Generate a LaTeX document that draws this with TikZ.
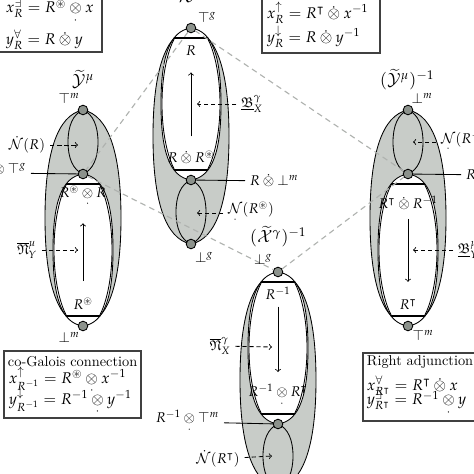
\documentclass[tikz,border=0pt]{standalone}
\usepackage{amsmath}
\usepackage{mathpazo}
\usepackage{amssymb}
\definecolor{podgray}{RGB}{200,204,200}
\definecolor{dotgray}{RGB}{140,146,140}
\definecolor{diagray}{RGB}{175,178,175}
\newcommand{\otd}{\mathbin{\dot{\otimes}}}
\newcommand{\otu}{\mathbin{\underset{\cdot}{\otimes}}}
\begin{document}
\begin{tikzpicture}[x=0.025cm,y=-0.025cm]
	\tikzstyle{point}=[circle,draw,fill=dotgray,inner sep=0pt,minimum size=2.4mm,line width=0.6pt]
	\tikzstyle{corde}=[line width=1.5pt]
	\tikzstyle{trait}=[line width=0.6pt]
	\tikzstyle{diag}=[diagray,dash pattern=on 4pt off 3pt,line width=0.8pt]
	\tikzstyle{fleche}=[->,line width=0.6pt]
	\tikzstyle{pointille}=[->,dash pattern=on 3pt off 2pt,line width=0.6pt]
	\tikzstyle{boite}=[line width=0.8pt,draw=black!75]
	\tikzstyle{titre}=[font=\large]
	\tikzstyle{formule}=[anchor=west,font=\fontsize{11}{13}\selectfont]
	\tikzstyle{entete}=[anchor=west,font=\fontsize{10.2}{12}\selectfont]
	\tikzset{pod/.pic={
		\draw[trait,fill=podgray] (0,0) .. controls (26,5) and (38,44) .. (38,108)
			.. controls (38,172) and (26,211) .. (0,216)
			.. controls (-26,211) and (-38,172) .. (-38,108)
			.. controls (-38,44) and (-26,5) .. (0,0) -- cycle; % enveloppe
		\draw[trait,fill=white] (0,0) .. controls (22,3) and (30,30) .. (30,76)
			.. controls (30,122) and (22,149) .. (0,152)
			.. controls (-22,149) and (-30,122) .. (-30,76)
			.. controls (-30,30) and (-22,3) .. (0,0) -- cycle;
		\begin{scope}
			\clip (-40,10) rectangle (40,142);
			\draw[trait] (0,76) ellipse [x radius=29, y radius=80];
		\end{scope}
		\draw[corde] (-17,10) -- (17,10);
		\draw[corde] (-17,142) -- (17,142);
		\draw[trait] (0,152) .. controls (10,156) and (15,168) .. (15,184)
			.. controls (15,200) and (10,212) .. (0,216)
			.. controls (-10,212) and (-15,200) .. (-15,184)
			.. controls (-15,168) and (-10,156) .. (0,152) -- cycle; % petite
		\node[point] (-big) at (0,0) {};
		\node[point] (-mid) at (0,152) {};
		\node[point] (-small) at (0,216) {};
	}}
	\useasboundingbox (0,0) rectangle (474,474);
	\clip (0,0) rectangle (474,474);

	\pic (C) at (191,28) {pod};
	\pic (B) at (278,272) {pod};
	\pic[yscale=-1] (L) at (83,326) {pod};
	\pic[yscale=-1] (R) at (408,326) {pod};
	\draw[diag] (C-big) -- (L-mid) -- (B-big) -- (R-mid) -- (C-big);

	% gauche
	\node[titre] (tL) at (83,79) {$\widetilde{\mathcal{Y}}^{\mu}$};
	\node (hL) at (69,98) {$\top^m$};
	\node (bL) at (69,337) {$\bot^m$};
	\node (NL) at (27,145) {$\dot{\mathcal{N}}(R)$};
	\node[anchor=east] (gL) at (31,173) {$R^{\circledast}\otu\top^g$};
	\node (aL) at (83,197) {$R^{\circledast}\otu R$};
	\node (zL) at (83,304) {$R^{\circledast}$};
	\node (YL) at (27,250) {$\overline{\mathfrak{N}}^{\mu}_{Y}$};
	\coordinate (pNL) at (78,145);
	\coordinate (pYL) at (78,250);
	\draw[trait] (gL) -- (L-mid);
	\draw[fleche,shorten <=3mm,shorten >=2.5mm] (zL) -- (aL);
	\draw[pointille] (NL) -- (pNL);
	\draw[pointille] (YL) -- (pYL);

	% milieu haut
	\node[titre] (tC) at (185,-6) {$\widetilde{\mathcal{R}}$};
	\node (hC) at (207,17) {$\top^g$};
	\node (aC) at (191,51) {$R$};
	\node (zC) at (191,157) {$R\otd R^{\circledast}$};
	\node (BC) at (252,104) {$\underline{\mathfrak{B}}^{\gamma}_{X}$};
	\node[anchor=west] (mC) at (245,181) {$R\otd\bot^m$};
	\node (NC) at (251,213) {$\underset{\cdot}{\mathcal{N}}(R^{\circledast})$};
	\node (bC) at (204,257) {$\bot^g$};
	\coordinate (pBC) at (197,104);
	\coordinate (pNC) at (197,213);
	\draw[fleche,shorten <=2.3mm,shorten >=2.9mm] (zC) -- (aC);
	\draw[trait] (C-mid) -- (mC);
	\draw[pointille] (BC) -- (pBC);
	\draw[pointille] (NC) -- (pNC);

	% droite
	\node[titre] (tR) at (407,80) {$(\widetilde{\mathcal{Y}}^{\mu})^{-1}$};
	\node (hR) at (422,98) {$\bot^m$};
	\node (bR) at (423,335) {$\top^m$};
	\node[anchor=west] (NR) at (436,142) {$\underset{\cdot}{\mathcal{N}}(R^{-1})$};
	\node[anchor=west] (mR) at (461,175) {$R^{\intercal}\otd\bot^g$};
	\node (aR) at (408,203) {$R^{\intercal}\otd R^{-1}$};
	\node (zR) at (408,305) {$R^{\intercal}$};
	\node[anchor=west] (BR) at (453,250) {$\underline{\mathfrak{B}}^{\mu}_{Y}$};
	\coordinate (pNR) at (413,142);
	\coordinate (pBR) at (413,250);
	\draw[fleche,shorten <=1mm,shorten >=3.3mm] (aR) -- (zR);
	\draw[trait] (R-mid) -- (mR);
	\draw[pointille] (NR) -- (pNR);
	\draw[pointille] (BR) -- (pBR);

	% bas
	\node[titre] (tB) at (278,237) {$(\widetilde{\mathcal{X}}^{\gamma})^{-1}$};
	\node (hB) at (263,259) {$\bot^g$};
	\node (aB) at (278,293) {$R^{-1}$};
	\node (zB) at (278,396) {$R^{-1}\otu R^{\intercal}$};
	\node (NB) at (220,346) {$\overline{\mathfrak{N}}^{\gamma}_{X}$};
	\node[anchor=east] (mB) at (224,422) {$R^{-1}\otu\top^m$};
	\node (DB) at (218,459) {$\dot{\mathcal{N}}(R^{\intercal})$};
	\coordinate (pNB) at (272,347);
	\coordinate (pDB) at (272,456);
	\draw[fleche,shorten <=0.6mm,shorten >=1.8mm] (aB) -- (zB);
	\draw[trait] (mB) -- (B-mid);
	\draw[pointille] (NB) -- (pNB);
	\draw[pointille] (DB) -- (pDB);

	% boites
	\draw[boite] (-5,-20) rectangle (102,52);
	\node[formule] (e1) at (1,12) {$x^{\exists}_{R} = R^{\circledast}\otu x$};
	\node[formule] (e2) at (1,40) {$y^{\forall}_{R} = R\otd y$};
	\draw[boite] (262,-20) rectangle (380,53);
	\node[formule] (e3) at (262,13) {$x^{\uparrow}_{R} = R^{\intercal}\otd x^{-1}$};
	\node[formule] (e4) at (262,37) {$y^{\downarrow}_{R} = R\otd y^{-1}$};
	\draw[boite] (4,351) rectangle (141,418);
	\node[entete] (g0) at (3,362) {co-Galois connection};
	\node[formule] (g1) at (4,381) {$x^{\uparrow}_{R^{-1}} = R^{\circledast}\otu x^{-1}$};
	\node[formule] (g2) at (4,402) {$y^{\downarrow}_{R^{-1}} = R^{-1}\otu y^{-1}$};
	\draw[boite] (363,353) rectangle (490,421);
	\node[entete] (d0) at (362,362) {Right adjunction};
	\node[formule] (d1) at (362,386) {$x^{\forall}_{R^{\intercal}} = R^{\intercal}\otd x$};
	\node[formule] (d2) at (362,404) {$y^{\exists}_{R^{\intercal}} = R^{-1}\otu y$};
\end{tikzpicture}
\end{document}
